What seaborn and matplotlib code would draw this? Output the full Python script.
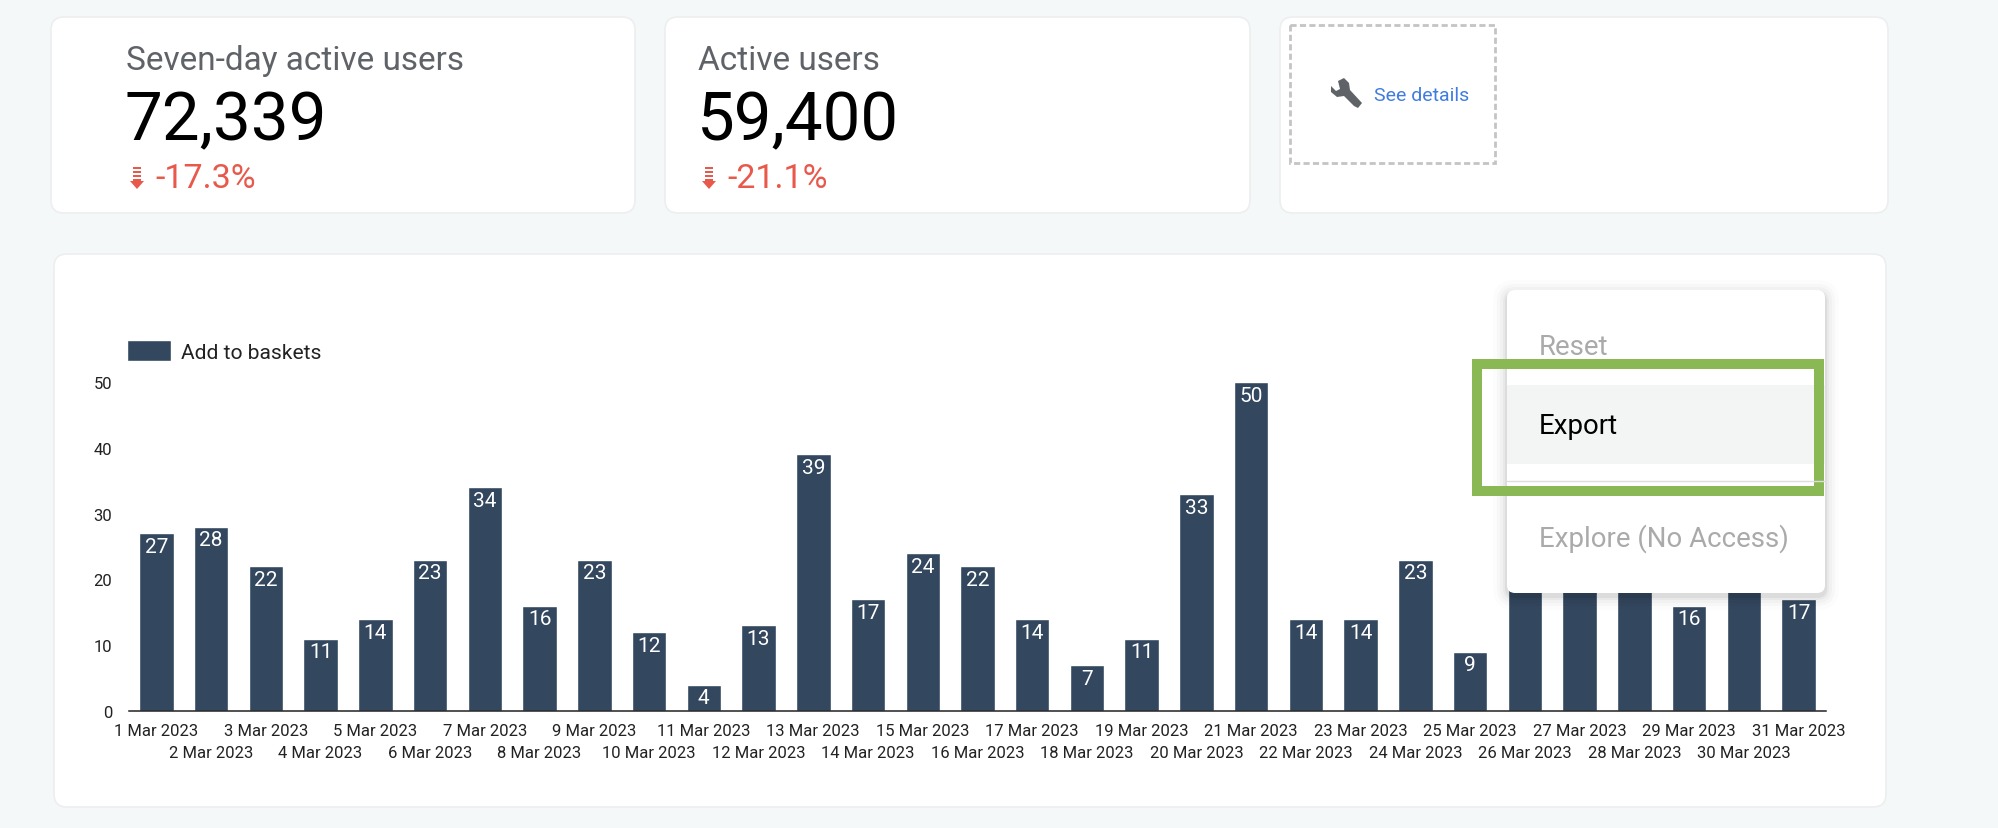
import matplotlib
matplotlib.use("Agg")
import matplotlib.pyplot as plt
import pandas as pd
import seaborn as sns
from matplotlib.patches import FancyBboxPatch, Polygon, Rectangle

# Bars 26, 27, 28 and 30 sit behind the menu, their heights are estimates
dates = [f"{d} Mar 2023" for d in range(1, 32)]
add_to_baskets = [27, 28, 22, 11, 14, 23, 34, 16, 23, 12, 4, 13, 39, 17, 24, 22,
                  14, 7, 11, 33, 50, 14, 14, 23, 9, 25, 31, 23, 16, 24, 17]
y_ticks = [0, 10, 20, 30, 40, 50]

card_titles = ["Seven-day active users", "Active users"]
card_values = ["72,339", "59,400"]
card_deltas = ["-17.3%", "-21.1%"]
menu_items = ["Reset", "Export", "Explore (No Access)"]

W, H = 1999, 829
BG = "#f5f8f9"
NAVY = "#33475f"
RED = "#e8594c"

sns.set_theme(style="white")
plt.rcParams["font.family"] = ["Roboto", "DejaVu Sans"]


def rounded(ax, x0, y0, x1, y1, radius, **kw):
    box = FancyBboxPatch((x0 + radius, y0 + radius), x1 - x0 - 2 * radius, y1 - y0 - 2 * radius,
                         boxstyle=f"round,pad={radius},rounding_size={radius}", **kw)
    ax.add_patch(box)
    return box


def pixel_axes(fig, zorder):
    # full figure axes in image pixels, y pointing down
    ax = fig.add_axes([0, 0, 1, 1], zorder=zorder)
    ax.set_xlim(0, W)
    ax.set_ylim(H, 0)
    ax.axis("off")
    ax.patch.set_alpha(0)
    return ax


fig = plt.figure(figsize=(W / 100, H / 100), dpi=100, facecolor=BG)

# Cards behind everything
back = pixel_axes(fig, 0)
for x0, x1, y0, y1 in [(51, 635, 18, 214), (665, 1250, 18, 214), (1280, 1888, 18, 214), (54, 1886, 255, 808)]:
    rounded(back, x0, y0, x1, y1, 13, facecolor="white", edgecolor="#eceef0", linewidth=1.2)

# Scorecards
for x, title, value, delta in zip([126, 698], card_titles, card_values, card_deltas):
    back.text(x, 61, title, fontsize=24, color="#5f6368", va="center", ha="left")
    back.text(x - 1, 122, value, fontsize=48.4, color="black", va="center", ha="left")
    back.text(x + 29, 179, delta, fontsize=24.5, color=RED, va="center", ha="left")
    for y in [168, 172, 176]:
        back.add_patch(Rectangle((x + 7, y), 8, 2.4, color=RED, lw=0))
    back.add_patch(Polygon([(x + 7, 180), (x + 15, 180), (x + 15, 182), (x + 18, 182),
                            (x + 11, 190), (x + 4, 182), (x + 7, 182)], color=RED, lw=0))

# Third card, dashed placeholder and wrench
back.add_patch(Rectangle((1290, 26), 205, 138, fill=False, edgecolor="#c4c4c4", linewidth=2,
                         linestyle=(0, (2.2, 1.2))))
back.add_patch(Polygon([(1331, 87), (1336, 92), (1340, 90), (1338, 82), (1344, 79), (1349, 84),
                        (1350, 91), (1362, 104), (1358, 109), (1354, 107), (1344, 97), (1337, 98),
                        (1331, 93)], color="#5f6368", lw=0))
back.text(1374, 96, "See details", fontsize=14, color="#3f7be0", va="center", ha="left")

# Bar chart
ax = fig.add_axes([129 / W, (H - 712) / H, (1826 - 129) / W, (712 - 383) / H], zorder=1)
ax.patch.set_alpha(0)
df = pd.DataFrame({"date": dates, "add_to_baskets": add_to_baskets})
sns.barplot(data=df, x="date", y="add_to_baskets", color=NAVY, saturation=1, width=0.63,
            label="Add to baskets", ax=ax)
ax.set_ylim(0, 50)
ax.set_yticks(y_ticks)
ax.set_xlabel("")
ax.set_ylabel("")
sns.despine(ax=ax, left=True)
ax.spines["bottom"].set_color("#222222")
ax.spines["bottom"].set_linewidth(1.1)
ax.tick_params(axis="y", length=0, pad=12, labelsize=12, labelcolor="#222222")
ax.tick_params(axis="x", length=0, labelsize=12, labelcolor="#222222")

for i, tick in enumerate(ax.xaxis.get_major_ticks()):
    tick.set_pad(8.7 if i % 2 == 0 else 24.6)

for i, v in enumerate(add_to_baskets):
    ax.annotate(str(v), (i, v), xytext=(0, -9.5), textcoords="offset points", ha="center",
                va="center", color="white", fontsize=15)

ax.legend(loc="lower left", bbox_to_anchor=(-0.001, 1.062), frameon=False, fontsize=15.1, handlelength=2.08,
          handleheight=1.16, handletextpad=0.46, borderaxespad=0, borderpad=0, labelcolor="#222222")

# Open menu on top of the chart
front = pixel_axes(fig, 2)
for grow, alpha in [(14, 0.012), (10, 0.018), (7, 0.025), (4, 0.035), (2, 0.05)]:
    rounded(front, 1507 - grow, 291 - grow + 4, 1825 + grow, 594 + grow + 3, 8 + grow,
            facecolor="black", edgecolor="none", alpha=alpha)
rounded(front, 1507, 291, 1825, 594, 8, facecolor="white", edgecolor="none")
front.add_patch(Rectangle((1507, 386), 318, 79, color="#f3f5f4", lw=0))
front.plot([1507, 1825], [482, 482], color="#dddddd", lw=1)
for item, y, colour in zip(menu_items, [347, 427, 539], ["#aaaaaa", "black", "#aaaaaa"]):
    front.text(1539, y, item, fontsize=19.9, color=colour, va="center", ha="left")

# Green highlight box
front.add_patch(Rectangle((1477, 365), 342.5, 127, fill=False, edgecolor="#8ab855", linewidth=7.2,
                          joinstyle="miter"))

fig.savefig("out.png", dpi=100, facecolor=BG)
